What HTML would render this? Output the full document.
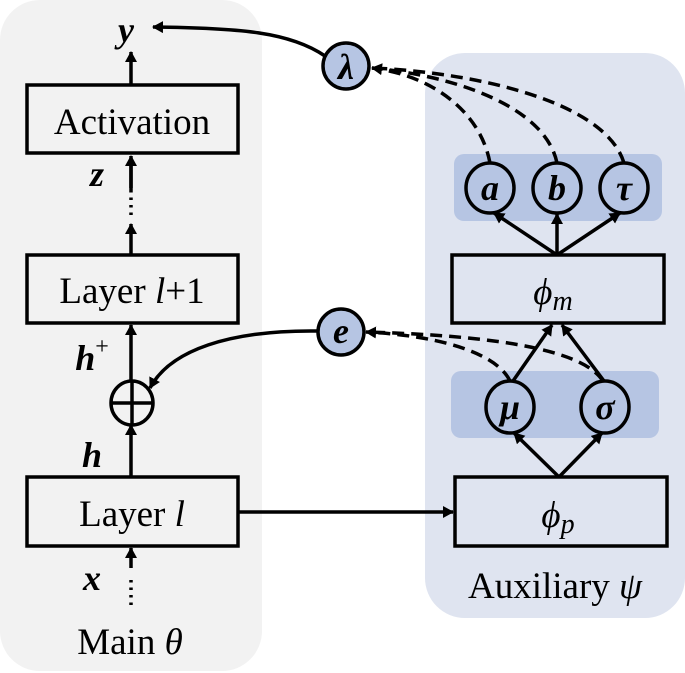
<!DOCTYPE html>
<html><head><meta charset="utf-8"><style>html,body{margin:0;padding:0;background:#fff}svg{display:block}</style></head>
<body>
<svg width="685" height="673" viewBox="0 0 685 673" xmlns="http://www.w3.org/2000/svg" font-family="Liberation Serif, serif">
<defs>
<marker id="ar" markerWidth="12" markerHeight="12" refX="10" refY="6" orient="auto" markerUnits="userSpaceOnUse"><path d="M0,0 L11,6 L0,12 z" fill="#000"/></marker>
</defs>
<rect x="0" y="0" width="262" height="671" rx="40" fill="#f2f2f2"/>
<rect x="425" y="53" width="260" height="565" rx="40" fill="#dfe4f0"/>
<rect x="454" y="154" width="208" height="67" rx="10" fill="#b6c5e3"/>
<rect x="451" y="371" width="208" height="67" rx="10" fill="#b6c5e3"/>
<g stroke="#000" stroke-width="3.5" fill="none">
<rect x="27" y="85" width="211" height="68"/>
<rect x="27" y="255" width="211" height="68"/>
<rect x="27" y="477" width="211" height="69"/>
<rect x="452" y="255" width="212" height="68" fill="#dfe4f0"/>
<rect x="455" y="477" width="212" height="69" fill="#dfe4f0"/>
<line x1="131" y1="85" x2="131" y2="52" marker-end="url(#ar)"/>
<line x1="131" y1="255" x2="131" y2="224" marker-end="url(#ar)"/>
<line x1="131" y1="188" x2="131" y2="156" marker-end="url(#ar)"/>
<line x1="131" y1="380" x2="131" y2="325" marker-end="url(#ar)"/>
<line x1="131" y1="477" x2="131" y2="425" marker-end="url(#ar)"/>
<line x1="131" y1="568" x2="131" y2="548" marker-end="url(#ar)"/>
<line x1="238" y1="512" x2="453" y2="512" marker-end="url(#ar)"/>
<line x1="557" y1="255" x2="494" y2="213" marker-end="url(#ar)"/>
<line x1="557" y1="255" x2="557" y2="214" marker-end="url(#ar)"/>
<line x1="557" y1="255" x2="620" y2="213" marker-end="url(#ar)"/>
<line x1="559" y1="477" x2="514" y2="433" marker-end="url(#ar)"/>
<line x1="559" y1="477" x2="602" y2="433" marker-end="url(#ar)"/>
<line x1="513" y1="381" x2="552" y2="325" marker-end="url(#ar)"/>
<line x1="604" y1="381" x2="562" y2="325" marker-end="url(#ar)"/>
<path d="M325,56 C290,32 240,28 153,27" marker-end="url(#ar)"/>
<path d="M317,331 C230,330 170,350 150,388" marker-end="url(#ar)"/>
<g stroke-dasharray="12,7">
<path d="M490,163 C480,110 430,75 372,68" marker-end="url(#ar)"/>
<path d="M557,163 C545,105 450,75 372,68"/>
<path d="M624,163 C605,100 470,72 372,68"/>
<path d="M510,381 C495,350 430,335 366,332" marker-end="url(#ar)"/>
<path d="M603,381 C580,345 470,335 366,332"/>
</g>
</g>
<g stroke="#000" stroke-width="3.5" stroke-dasharray="2.5,5"><line x1="131" y1="190" x2="131" y2="218"/><line x1="131" y1="580" x2="131" y2="610"/></g>
<line x1="131" y1="166" x2="131" y2="190" stroke="#000" stroke-width="3.5"/>
<g stroke="#000" stroke-width="3.5" fill="#b6c5e3">
<ellipse cx="346" cy="66" rx="23" ry="23"/>
<ellipse cx="341" cy="332" rx="23" ry="23"/>
<ellipse cx="490" cy="188" rx="24" ry="25"/>
<ellipse cx="557" cy="188" rx="24" ry="25"/>
<ellipse cx="624" cy="188" rx="24" ry="25"/>
<ellipse cx="510" cy="407" rx="24" ry="26"/>
<ellipse cx="605" cy="407" rx="24" ry="26"/>
</g>
<g stroke="#000" stroke-width="3.5" fill="#f2f2f2">
<ellipse cx="132" cy="403" rx="21" ry="22"/>
<line x1="111" y1="403" x2="153" y2="403"/><line x1="132" y1="381" x2="132" y2="425"/>
</g>
<g font-size="37" text-anchor="middle" fill="#000">
<text x="132" y="134">Activation</text>
<text x="132" y="303">Layer <tspan font-style="italic">l</tspan>+1</text>
<text x="132" y="526">Layer <tspan font-style="italic">l</tspan></text>
<text x="553" y="304" font-style="italic">ϕ<tspan font-size="28" dy="6">m</tspan></text>
<text x="558" y="527" font-style="italic">ϕ<tspan font-size="28" dy="6">p</tspan></text>
<text x="130" y="654">Main <tspan font-style="italic">θ</tspan></text>
<text x="555" y="598">Auxiliary <tspan font-style="italic">ψ</tspan></text>
</g>
<g font-size="36" font-weight="bold" font-style="italic" text-anchor="middle" fill="#000">
<text x="126" y="42">y</text>
<text x="97" y="186">z</text>
<text x="92" y="370">h<tspan font-size="24" font-weight="normal" font-style="normal" dy="-16">+</tspan></text>
<text x="92" y="467">h</text>
<text x="92" y="590">x</text>
<text x="346" y="79">λ</text>
<text x="341" y="343">e</text>
<text x="490" y="200">a</text>
<text x="557" y="200">b</text>
<text x="624" y="200">τ</text>
<text x="510" y="419">μ</text>
<text x="605" y="419">σ</text>
</g>
</svg>
</body></html>
